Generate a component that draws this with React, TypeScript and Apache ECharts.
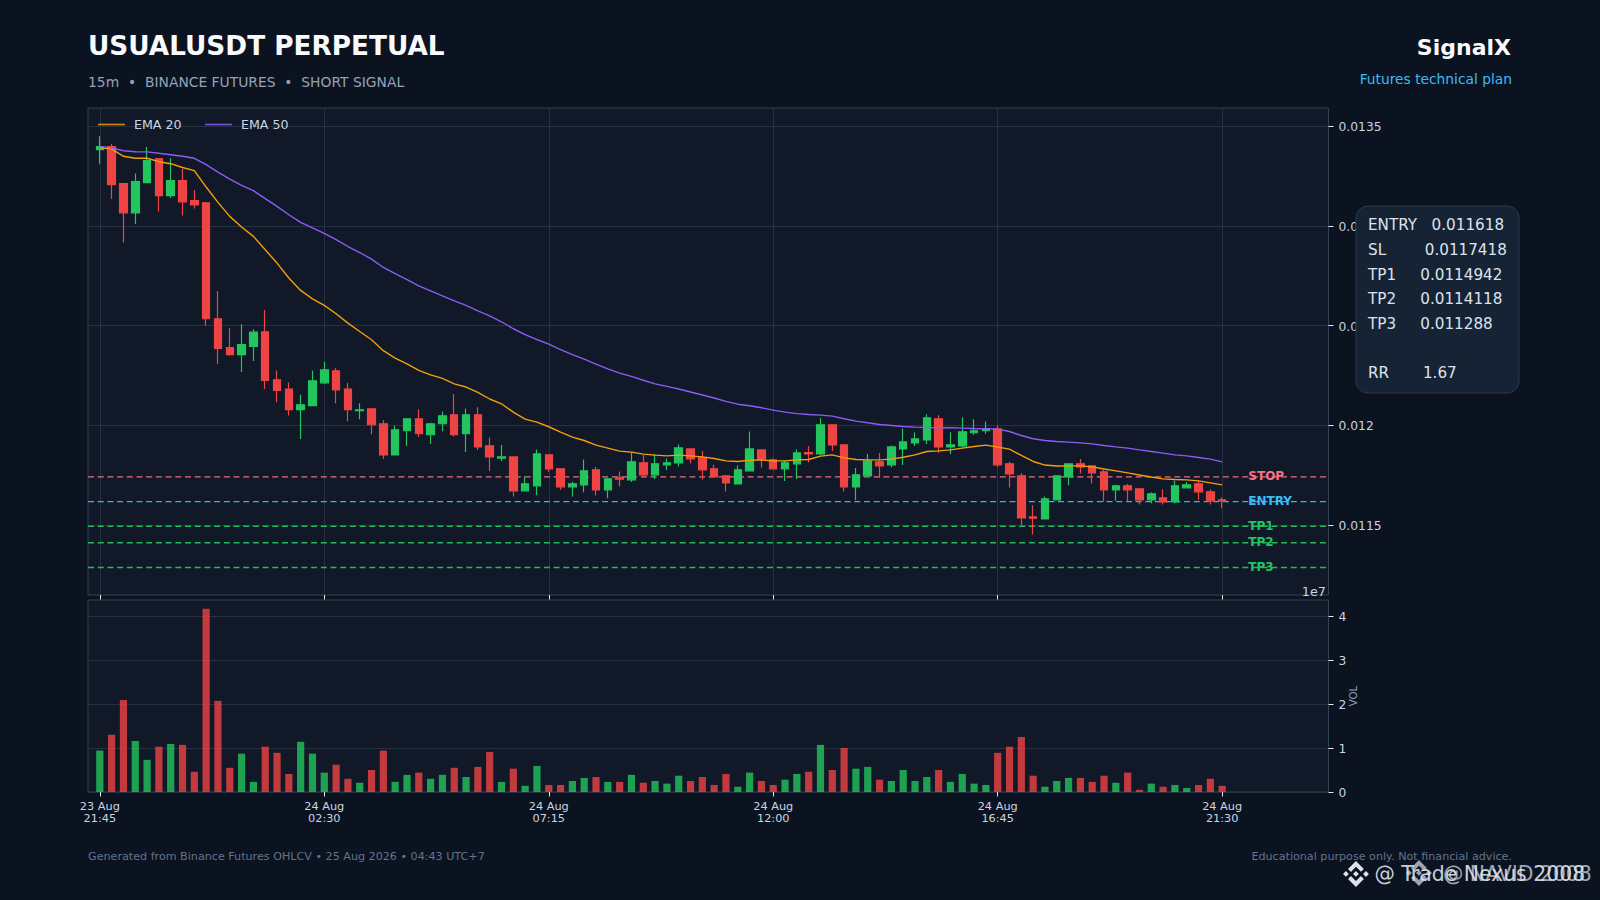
import React, { useEffect, useRef } from "react";
import * as echarts from "echarts";

const PRICE_UNIT = 1e-6;
const opens = [
  13381,13396,13211,13065,13216,13336,13151,13226,13126,13115,
  12534,12389,12354,12395,12469,12228,12182,12079,12099,12213,
  12273,12182,12074,12083,12008,11852,11973,12033,11953,12008,
  12053,11958,12053,11897,11836,11842,11672,11697,11852,11782,
  11692,11702,11777,11677,11737,11727,11812,11752,11802,11812,
  11882,11839,11782,11747,11707,11772,11877,11827,11782,11807,
  11864,11857,12003,11902,11692,11747,11817,11802,11882,11912,
  11927,12033,11892,11897,11963,11973,11983,11807,11747,11541,
  11531,11627,11742,11807,11797,11767,11677,11697,11682,11627,
  11637,11617,11687,11707,11667,11627,
];
const closes = [
  13396,13206,13065,13221,13326,13151,13226,13120,13105,12534,
  12385,12354,12404,12467,12225,12175,12079,12103,12223,12278,
  12178,12079,12078,12003,11852,11978,12033,11958,12008,12048,
  11953,12053,11892,11842,11842,11672,11707,11857,11782,11692,
  11707,11772,11677,11732,11731,11817,11752,11807,11812,11887,
  11832,11777,11742,11712,11777,11882,11832,11782,11812,11862,
  11857,12003,11902,11692,11752,11822,11797,11892,11917,11932,
  12038,11892,11902,11968,11973,11983,11802,11757,11536,11535,
  11632,11747,11807,11792,11762,11677,11697,11677,11627,11657,
  11617,11697,11702,11667,11622,11622,
];
const lows = [
  13311,13134,12916,13009,13216,13072,13139,13052,13087,12499,
  12307,12350,12267,12322,12182,12116,12049,11931,12099,12207,
  12111,12021,12031,11956,11831,11852,11897,11941,11907,11971,
  11944,11866,11876,11771,11821,11643,11668,11650,11767,11677,
  11643,11665,11648,11635,11693,11716,11739,11731,11776,11794,
  11809,11729,11742,11668,11707,11769,11789,11782,11721,11731,
  11814,11852,11872,11668,11625,11747,11739,11789,11801,11897,
  11906,11861,11857,11892,11953,11958,11792,11688,11500,11453,
  11531,11627,11700,11759,11709,11617,11622,11615,11603,11610,
  11603,11610,11687,11627,11603,11585,
];
const highs = [
  13448,13410,13211,13262,13395,13336,13338,13286,13179,13119,
  12673,12487,12507,12482,12578,12275,12215,12153,12275,12318,
  12287,12212,12111,12083,12026,11998,12036,12081,12013,12069,
  12157,12084,12091,11939,11901,11842,11744,11879,11852,11782,
  11718,11829,11791,11736,11769,11864,11852,11857,11834,11904,
  11882,11871,11802,11747,11799,11969,11877,11834,11822,11879,
  11896,12036,12003,11906,11786,11856,11861,11899,11983,11964,
  12056,12051,11966,12041,12031,12019,11999,11817,11761,11600,
  11643,11747,11807,11831,11797,11777,11702,11707,11685,11665,
  11680,11722,11716,11724,11680,11638,
];
const ema20 = [
  13390,13385,13348,13338,13338,13321,13311,13292,13276,13194,
  13117,13047,12994,12947,12880,12813,12738,12676,12634,12601,
  12559,12512,12470,12429,12374,12337,12308,12275,12253,12235,
  12208,12192,12165,12132,12108,12066,12031,12016,11993,11966,
  11941,11924,11901,11886,11871,11866,11856,11851,11847,11851,
  11847,11842,11834,11822,11819,11826,11827,11822,11822,11827,
  11829,11846,11852,11837,11829,11827,11827,11831,11840,11852,
  11869,11872,11877,11886,11894,11901,11891,11881,11849,11819,
  11801,11796,11797,11797,11792,11781,11772,11762,11751,11741,
  11732,11729,11727,11722,11712,11702,
];
const ema50 = [
  13398,13390,13376,13371,13370,13363,13356,13348,13338,13306,
  13269,13234,13202,13176,13136,13097,13055,13017,12989,12962,
  12930,12896,12866,12833,12791,12760,12730,12699,12674,12649,
  12624,12601,12574,12549,12519,12484,12455,12430,12407,12379,
  12354,12332,12307,12283,12262,12245,12226,12208,12195,12182,
  12167,12152,12137,12120,12106,12098,12088,12076,12066,12059,
  12054,12051,12046,12033,12021,12013,12004,11999,11994,11991,
  11989,11988,11988,11986,11984,11983,11981,11969,11949,11933,
  11924,11919,11916,11912,11907,11899,11892,11886,11877,11869,
  11861,11852,11847,11839,11831,11817,
];
const volumes = [
  0.94,1.30,2.09,1.16,0.73,1.03,1.09,1.07,0.46,4.16,
  2.07,0.55,0.87,0.23,1.03,0.89,0.41,1.14,0.87,0.44,
  0.62,0.30,0.21,0.50,0.94,0.23,0.39,0.44,0.30,0.39,
  0.55,0.34,0.57,0.91,0.23,0.53,0.14,0.59,0.16,0.16,
  0.25,0.32,0.34,0.23,0.23,0.39,0.21,0.25,0.19,0.37,
  0.25,0.34,0.16,0.41,0.12,0.44,0.25,0.16,0.28,0.41,
  0.46,1.07,0.50,1.00,0.53,0.57,0.28,0.25,0.50,0.25,
  0.34,0.50,0.23,0.41,0.19,0.16,0.89,1.03,1.25,0.37,
  0.12,0.25,0.32,0.32,0.23,0.37,0.21,0.44,0.05,0.19,
  0.12,0.16,0.09,0.16,0.30,0.14,
];
const tickLabels = ["23 Aug\n21:45", "24 Aug\n02:30", "24 Aug\n07:15", "24 Aug\n12:00", "24 Aug\n16:45", "24 Aug\n21:30"];
const tickCandles = [0, 19, 38, 57, 76, 95];
const priceTicks = [0.0115, 0.012, 0.0125, 0.013, 0.0135];
const volumeTicks = [0, 1, 2, 3, 4];
const levelNames = ["STOP", "ENTRY", "TP1", "TP2", "TP3"];
const levelValues = [0.0117418, 0.011618, 0.0114942, 0.0114118, 0.011288];
const levelColors = ["#fb7185", "#38bdf8", "#22c55e", "#22c55e", "#22c55e"];
const planLines = [
  "ENTRY   0.011618",
  "SL        0.0117418",
  "TP1     0.0114942",
  "TP2     0.0114118",
  "TP3     0.011288",
  "",
  "RR       1.67",
];

const FONT = "'DejaVu Sans'";
const UP = "#22c55e";
const DOWN = "#ef4444";
const LOGO =
  "M16.624 13.9202l2.7175 2.7154-7.353 7.353-7.353-7.352 2.7175-2.7164 4.6355 4.6595 4.6356-4.6595zm4.6366-4.6366L24 12l-2.7154 2.7164L18.5682 12l2.6924-2.7164zm-9.272.001l2.7163 2.6914-2.7164 2.7174v-.001L9.2721 12l2.7164-2.7154zm-9.2722-.001L5.4088 12l-2.6914 2.6924L0 12l2.7164-2.7164zM11.9885.0115l7.353 7.329-2.7174 2.7154-4.6356-4.6356-4.6355 4.6595-2.7174-2.7154 7.353-7.353z";

const text = (t: string, x: number, y: number, size: number, fill: string, align = "left", weight = "normal", extra: any = {}) => ({
  type: "text",
  z: 100,
  x,
  y,
  style: { text: t, fill, fontSize: size, fontFamily: FONT, fontWeight: weight, textAlign: align, textVerticalAlign: "middle", ...extra },
});

export default function App() {
  const ref = useRef<HTMLDivElement>(null);
  useEffect(() => {
    if (!ref.current) return;
    echarts.graphic.registerShape("binanceLogo", echarts.graphic.extendPath(LOGO, {}));
    const chart = echarts.init(ref.current, undefined, { renderer: "svg" });

    const SLOTS = 106; // one empty slot before the first candle, nine after the last
    const categories = Array.from({ length: SLOTS }, (_, i) => {
      const k = tickCandles.indexOf(i - 1);
      return k >= 0 ? tickLabels[k] : "";
    });
    const isTick = (i: number) => tickCandles.includes(i - 1);

    const candleData: any[] = ["-"];
    const volumeData: any[] = ["-"];
    opens.forEach((o, i) => {
      candleData.push([o * PRICE_UNIT, closes[i] * PRICE_UNIT, lows[i] * PRICE_UNIT, highs[i] * PRICE_UNIT]);
      volumeData.push({ value: volumes[i], itemStyle: { color: closes[i] >= o ? UP : DOWN } });
    });
    const axisText = { color: "#cbd5e1", fontFamily: FONT };
    const gridLine = { show: true, lineStyle: { color: "#263241", width: 1 } };

    const levelSeries = levelValues.map((v, i) => ({
      type: "line",
      name: levelNames[i],
      xAxisIndex: 0,
      yAxisIndex: 0,
      z: 1,
      silent: true,
      symbol: "none",
      showSymbol: false,
      data: categories.map(() => v),
      lineStyle: { color: levelColors[i], type: [6, 3.7], width: 1.4, opacity: 0.95 },
    }));

    chart.setOption({
      animation: false,
      backgroundColor: "#0b1220",
      textStyle: { fontFamily: FONT },
      grid: [
        { left: 88, top: 108, width: 1240.5, height: 487, show: true, backgroundColor: "#111827", borderColor: "#334155", borderWidth: 1 },
        { left: 88, top: 600, width: 1240.5, height: 192, show: true, backgroundColor: "#111827", borderColor: "#334155", borderWidth: 1 },
      ],
      legend: {
        show: true,
        left: 98,
        top: 118,
        padding: 0,
        icon: "rect",
        itemWidth: 27,
        itemHeight: 1.6,
        itemGap: 23.5,
        selectedMode: false,
        data: [
          { name: "EMA 20", itemStyle: { opacity: 0.85 } },
          { name: "EMA 50", itemStyle: { opacity: 0.85 } },
        ],
        textStyle: { color: "#cbd5e1", fontFamily: FONT, fontSize: 12.6, padding: [0, 0, 0, 4] },
      },
      xAxis: [
        {
          type: "category",
          gridIndex: 0,
          data: categories,
          boundaryGap: false,
          axisLine: { show: false },
          axisTick: { show: true, interval: (i: number) => isTick(i), length: 4.5, lineStyle: { color: "#e2e8f0" } },
          axisLabel: { show: false },
          splitLine: { ...gridLine, interval: (i: number) => isTick(i) },
        },
        {
          type: "category",
          gridIndex: 1,
          data: categories,
          boundaryGap: false,
          axisLine: { show: false },
          axisTick: { show: true, interval: (i: number) => isTick(i), length: 4.5, lineStyle: { color: "#e2e8f0" } },
          axisLabel: { ...axisText, fontSize: 11.3, lineHeight: 11.5, margin: 9, interval: (i: number) => isTick(i) },
          splitLine: { show: false },
        },
      ],
      yAxis: [
        {
          type: "value",
          gridIndex: 0,
          position: "right",
          min: 0.01115,
          max: 0.01359,
          axisLine: { show: false },
          axisTick: { show: true, length: 5, customValues: priceTicks, lineStyle: { color: "#e2e8f0" } },
          axisLabel: { ...axisText, fontSize: 12.3, margin: 10, verticalAlign: "top", lineHeight: 2, customValues: priceTicks, formatter: (v: number) => String(+v.toFixed(4)) },
          splitLine: gridLine,
        },
        {
          type: "value",
          gridIndex: 1,
          position: "right",
          min: 0,
          max: 4.36,
          name: "VOL",
          nameLocation: "middle",
          nameRotate: 90,
          nameGap: 20,
          nameMoveOverlap: false,
          nameTextStyle: { color: "#94a3b8", fontSize: 10.2, fontFamily: FONT },
          axisLine: { show: false },
          axisTick: { show: true, length: 5, customValues: volumeTicks, lineStyle: { color: "#e2e8f0" } },
          axisLabel: { ...axisText, fontSize: 12.3, margin: 10, verticalAlign: "top", lineHeight: 2, customValues: volumeTicks, formatter: (v: number) => String(v) },
          splitLine: gridLine,
        },
      ],
      series: [
        ...levelSeries,
        {
          type: "candlestick",
          name: "Price",
          xAxisIndex: 0,
          yAxisIndex: 0,
          data: candleData,
          barWidth: 8,
          itemStyle: { color: UP, color0: DOWN, borderColor: UP, borderColor0: DOWN, borderWidth: 1.2 },
        },
        {
          type: "line",
          name: "EMA 20",
          xAxisIndex: 0,
          yAxisIndex: 0,
          data: ["-", ...ema20.map((v) => v * PRICE_UNIT)],
          color: "#f59e0b",
          showSymbol: false,
          symbol: "none",
          lineStyle: { width: 1.4, color: "#f59e0b" },
        },
        {
          type: "line",
          name: "EMA 50",
          xAxisIndex: 0,
          yAxisIndex: 0,
          data: ["-", ...ema50.map((v) => v * PRICE_UNIT)],
          color: "#8b5cf6",
          showSymbol: false,
          symbol: "none",
          lineStyle: { width: 1.4, color: "#8b5cf6" },
        },
        {
          type: "scatter",
          name: "Level labels",
          xAxisIndex: 0,
          yAxisIndex: 0,
          symbolSize: 1,
          silent: true,
          itemStyle: { color: "transparent", opacity: 1 },
          data: levelValues.map((v, i) => ({
            value: [98, v],
            label: {
              show: true,
              position: "right",
              distance: 2,
              offset: [0, -0.5],
              formatter: levelNames[i],
              color: levelColors[i],
              opacity: 1,
              fontSize: 12,
              fontWeight: "bold",
              fontFamily: FONT,
            },
          })),
        },
        {
          type: "bar",
          name: "Volume",
          xAxisIndex: 1,
          yAxisIndex: 1,
          data: volumeData,
          barWidth: 7.2,
          itemStyle: { opacity: 0.8 },
        },
      ],
      graphic: [
        text("USUALUSDT PERPETUAL", 88, 46, 26.3, "#f8fafc", "left", "bold"),
        text("15m  •  BINANCE FUTURES  •  SHORT SIGNAL", 88, 81.5, 13.87, "#94a3b8"),
        text("SignalX", 1511, 47, 22, "#f8fafc", "right", "bold"),
        text("Futures technical plan", 1512, 78.5, 13.8, "#38bdf8", "right"),
        text("Generated from Binance Futures OHLCV • 25 Aug 2026 • 04:43 UTC+7", 88, 856.5, 11.15, "#64748b"),
        text("Educational purpose only. Not financial advice.", 1512, 856.5, 11.15, "#64748b", "right"),
        text("1e7", 1326, 591, 12.8, "#cbd5e1", "right"),
        {
          type: "rect",
          z: 99,
          shape: { x: 1356, y: 206, width: 163, height: 187, r: 12 },
          style: { fill: "#162335", stroke: "#2d3a4e", lineWidth: 1 },
        },
        {
          type: "text",
          z: 100,
          x: 1368,
          y: 212.8,
          style: { text: planLines.join("\n"), fill: "#dbe3ec", fontSize: 15.2, fontFamily: FONT, lineHeight: 24.7, textAlign: "left", textVerticalAlign: "top" },
        },
        { type: "binanceLogo", z: 100, x: 1343, y: 861, scaleX: 1.08, scaleY: 1.08, style: { fill: "#dbe2ea" } },
        text("@ Trade Nexus 2008", 1374.5, 874, 20.4, "rgba(226,232,240,0.9)"),
        { type: "binanceLogo", z: 100, x: 1406, y: 860, scaleX: 1.08, scaleY: 1.08, style: { fill: "rgba(219,226,234,0.7)" } },
        text("@ NAVID 2008", 1443, 874, 20.4, "rgba(226,232,240,0.7)"),
      ],
    });
    return () => chart.dispose();
  }, []);
  return <div ref={ref} style={{ position: "fixed", left: 0, top: 0, width: 1600, height: 900 }} />;
}
